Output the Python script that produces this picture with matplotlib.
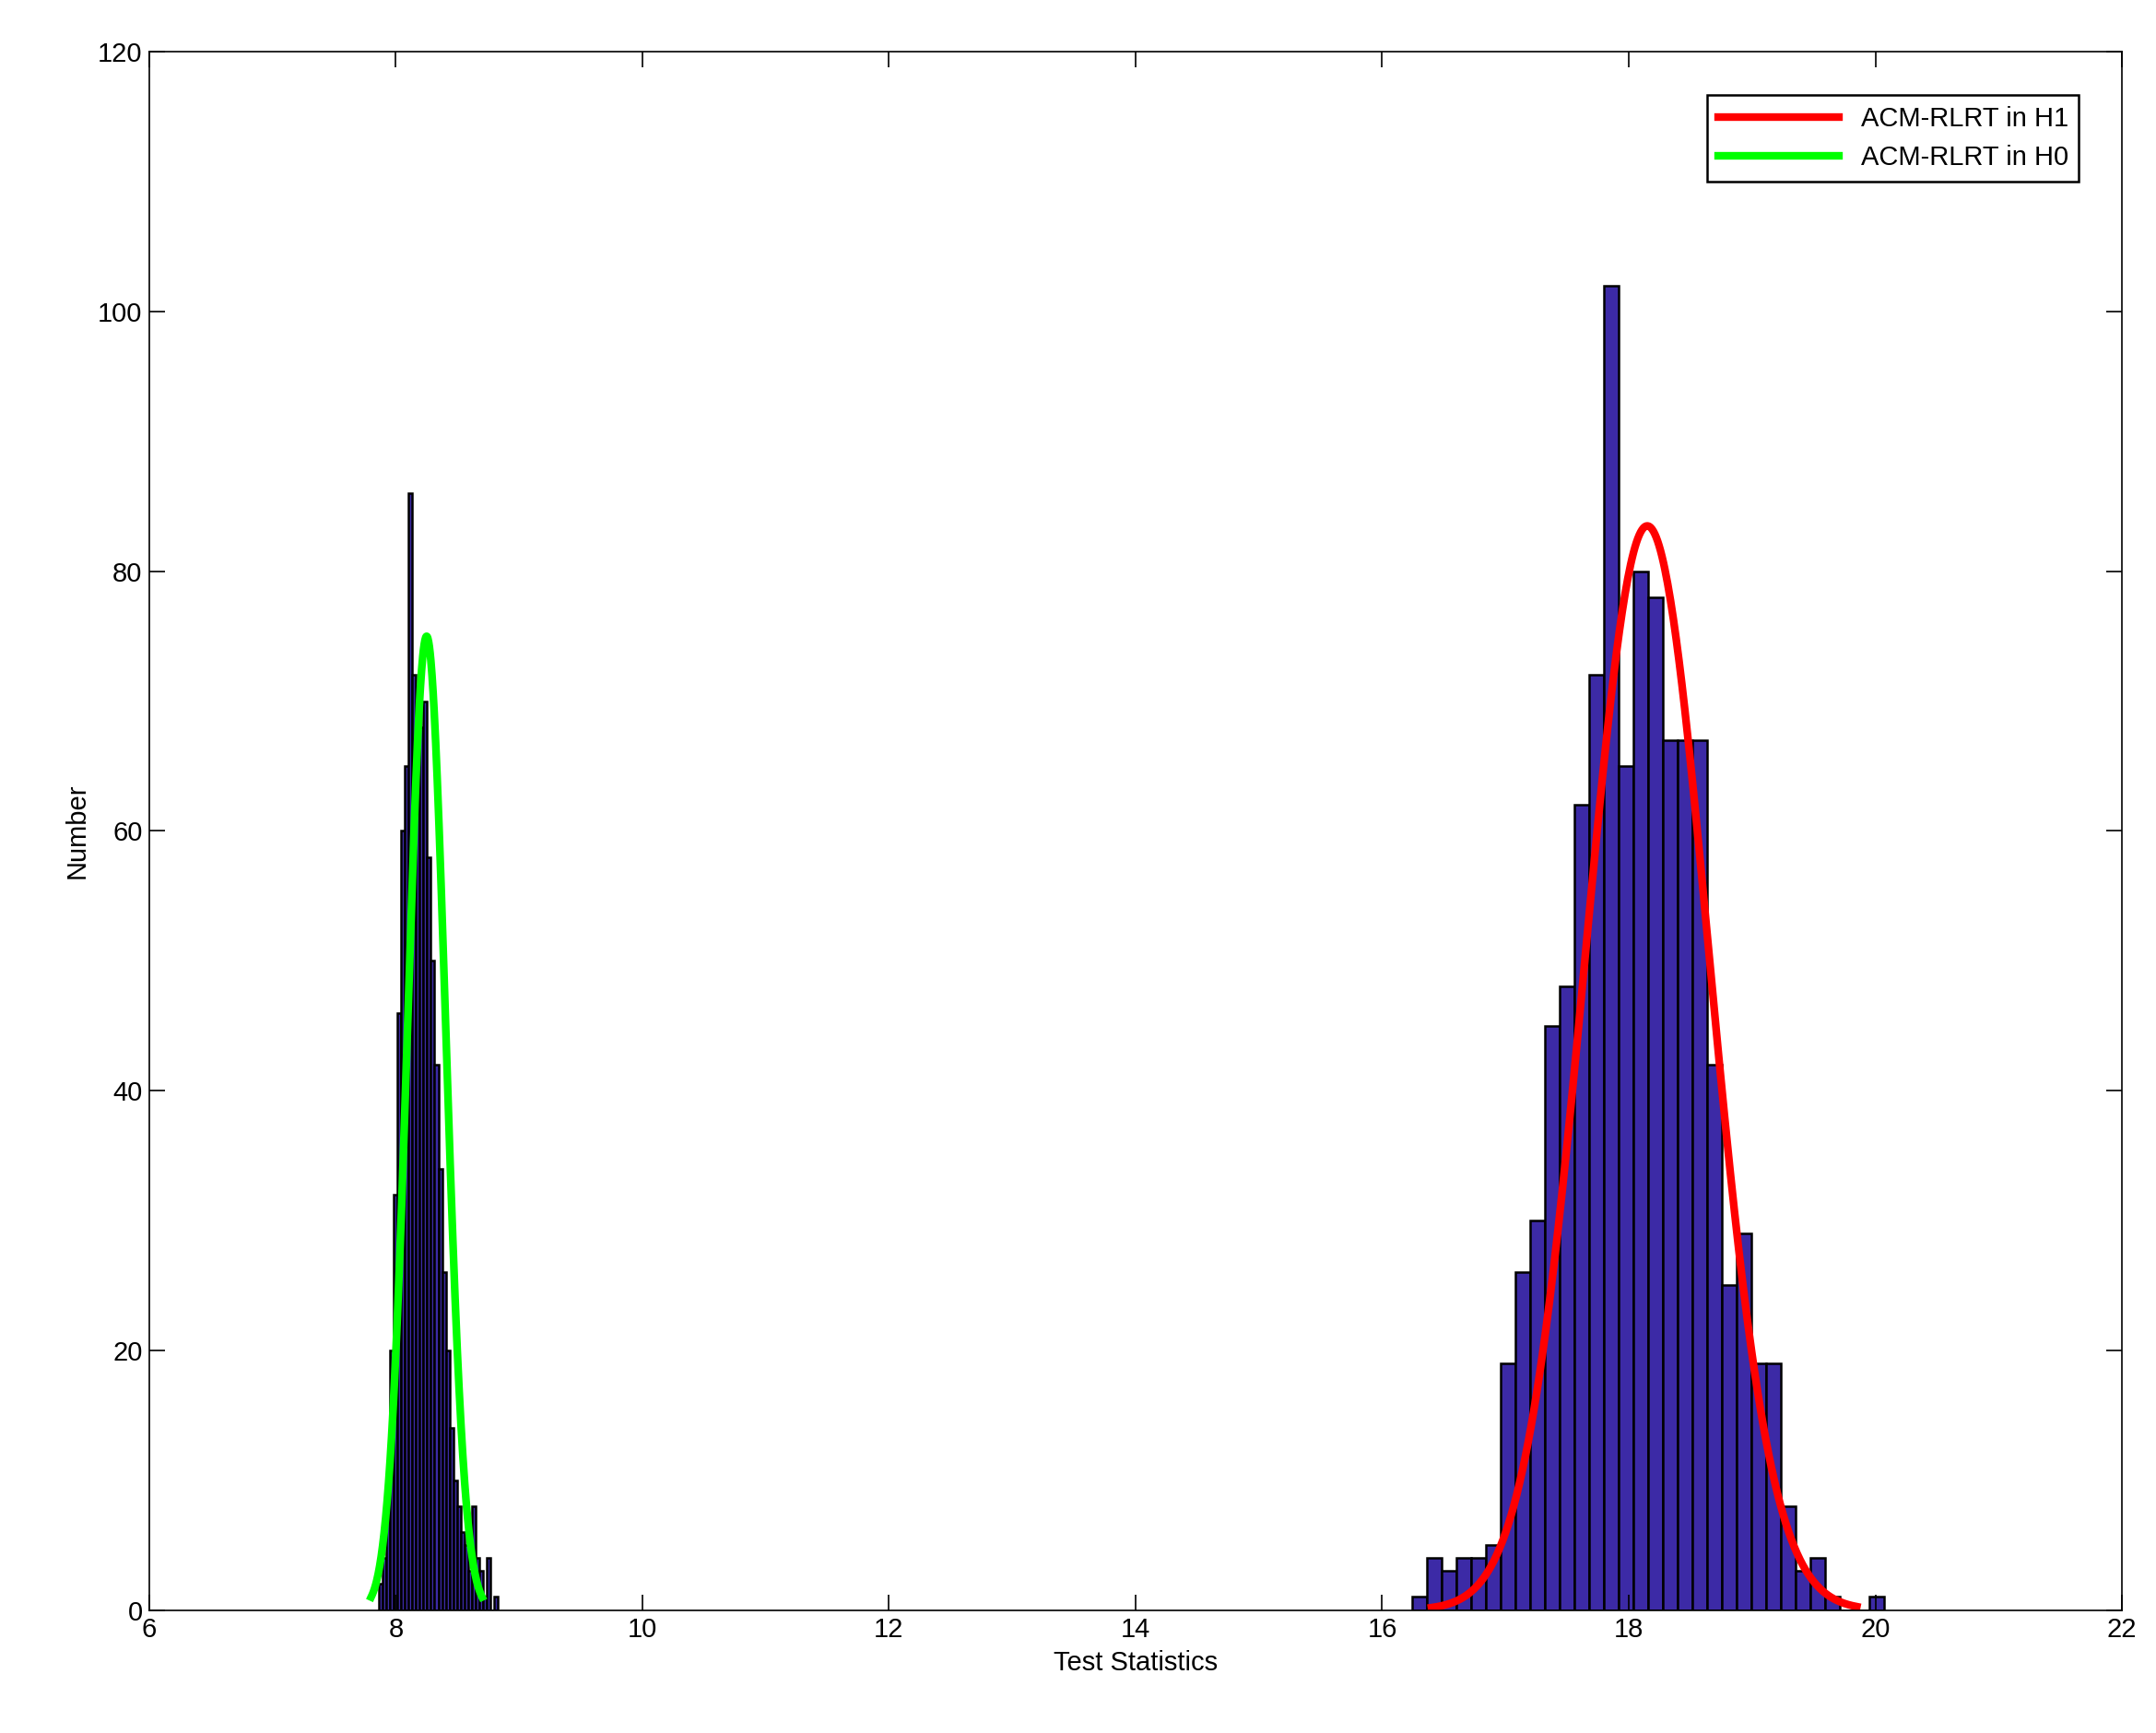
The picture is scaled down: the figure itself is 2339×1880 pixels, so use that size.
import numpy as np
import matplotlib
matplotlib.use("Agg")
import matplotlib.pyplot as plt

plt.rcParams['font.family'] = ['Liberation Sans', 'DejaVu Sans']

h1_counts = [1, 4, 3, 4, 4, 5, 19, 26, 30, 45, 48, 62, 72, 102, 65, 80, 78, 67, 67, 67,
             42, 25, 29, 19, 19, 8, 3, 4, 1, 0, 0, 1]
h1_range = (16.24, 20.07)
h0_counts = [2, 4, 10, 20, 32, 46, 60, 65, 86, 72, 66, 68, 70, 58, 50, 42, 34, 26, 20, 14,
             10, 8, 6, 5, 3, 8, 4, 3, 1, 4, 0, 1]
h0_range = (7.86, 8.83)
h1_fit = dict(mu=18.15, sigma=0.50, peak=83.5, lo=16.4, hi=19.85)
h0_fit = dict(mu=8.25, sigma=0.153, peak=75.0, lo=7.8, hi=8.7)

fig = plt.figure(figsize=(2339/150, 1880/150), dpi=150)
ax = fig.add_axes([0.0692, 0.071, 0.915, 0.899])

bar_face = '#3c2aa6'
for counts, rng in [(h1_counts, h1_range), (h0_counts, h0_range)]:
    edges = np.linspace(rng[0], rng[1], len(counts) + 1)
    ax.bar(edges[:-1], counts, width=np.diff(edges), align='edge',
           color=bar_face, edgecolor='black', linewidth=1.2)

for fit, col, lab in [(h1_fit, 'red', 'ACM-RLRT in H1'), (h0_fit, '#00ff00', 'ACM-RLRT in H0')]:
    x = np.linspace(fit['lo'], fit['hi'], 300)
    y = fit['peak'] * np.exp(-(x - fit['mu'])**2 / (2 * fit['sigma']**2))
    ax.plot(x, y, color=col, linewidth=4, label=lab)

ax.set_xlim(6, 22)
ax.set_ylim(0, 120)
ax.set_xticks(range(6, 23, 2))
ax.set_yticks(range(0, 121, 20))
ax.tick_params(direction='in', top=True, right=True, labelsize=14, length=8)
ax.set_xlabel('Test Statistics', fontsize=14, labelpad=4)
ax.set_ylabel('Number', fontsize=14)
leg = ax.legend(loc='upper right', fontsize=14, fancybox=False, edgecolor='black',
                framealpha=1, handlelength=4.5, borderaxespad=1.6)
leg.get_frame().set_linewidth(1.2)
fig.savefig('out.png', dpi=150)
